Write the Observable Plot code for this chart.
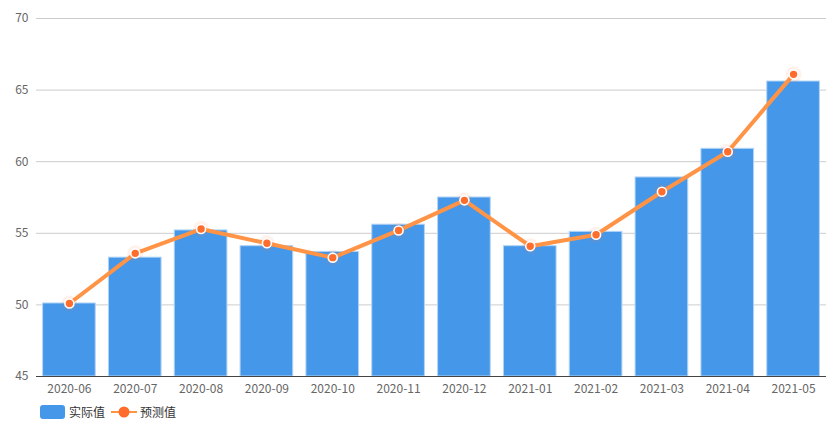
<!DOCTYPE html>
<html><head><meta charset="utf-8">
<script src="https://cdn.jsdelivr.net/npm/d3@7"></script>
<script src="https://cdn.jsdelivr.net/npm/@observablehq/plot@0.6"></script>
<style>
body{margin:0;background:#fff;font-family:"Noto Sans CJK SC","Noto Sans",sans-serif;}
#legend{display:flex;align-items:center;height:27px;padding-left:40px;font-size:12px;color:#333;}
.sw{display:inline-block;width:25px;height:14px;border-radius:3px;background:#4597e9;margin-right:4px;}
.item{display:flex;align-items:center;margin-right:6px;}
</style></head><body>
<div id="chart"></div>
<div id="legend">
<span class="item"><span class="sw"></span>实际值</span>
<span class="item"><svg width="26" height="14" style="margin-right:3px"><line x1="0" y1="7" x2="26" y2="7" stroke="#ff9447" stroke-width="2"/><circle cx="13" cy="7" r="5.5" fill="#ff6d2d"/></svg>预测值</span>
</div>
<script>
const months = ["2020-06","2020-07","2020-08","2020-09","2020-10","2020-11","2020-12","2021-01","2021-02","2021-03","2021-04","2021-05"];
const actual = [50.1,53.3,55.2,54.1,53.7,55.6,57.5,54.1,55.1,58.9,60.9,65.6];
const forecast = [50.1,53.6,55.3,54.3,53.3,55.2,57.3,54.1,54.9,57.9,60.7,66.1];
const yTicks = [45,50,55,60,65,70];

const data = months.map((m,i)=>({m, a: actual[i], f: forecast[i]}));

const chart = Plot.plot({
  width: 832, height: 398,
  marginTop: 18, marginBottom: 22, marginLeft: 36, marginRight: 6,
  style: {fontFamily: '"Noto Sans CJK SC","Noto Sans",sans-serif', fontSize: "12px", color: "#666"},
  x: {type: "band", domain: months, paddingInner: 0.2, paddingOuter: 0.1, round: false, label: null},
  y: {domain: [45,70], ticks: yTicks, label: null},
  marks: [
    Plot.gridY(yTicks, {stroke: "#cccccc", strokeOpacity: 1}),
    Plot.barY(data, {x: "m", y1: 45, y2: "a", fill: "#4597e9", stroke: "#b3d4f5", strokeWidth: 1}),
    Plot.axisX({tickSize: 0, tickPadding: 8, fill: "#666"}),
    Plot.ruleY([45], {stroke: "#444"}),
    Plot.axisY({ticks: yTicks, tickSize: 0, tickPadding: 8, fill: "#666"}),
    Plot.lineY(data, {x: "m", y: "f", stroke: "#ff9447", strokeWidth: 4, curve: "linear"}),
    Plot.dot(data, {x: "m", y: "f", r: 8, fill: "#ff7a3a", fillOpacity: 0.1}),
    Plot.dot(data, {x: "m", y: "f", r: 4.5, fill: "#ff6d2d", stroke: "#fff", strokeWidth: 1.6})
  ]
});
document.getElementById("chart").appendChild(chart);
</script>
</body></html>
